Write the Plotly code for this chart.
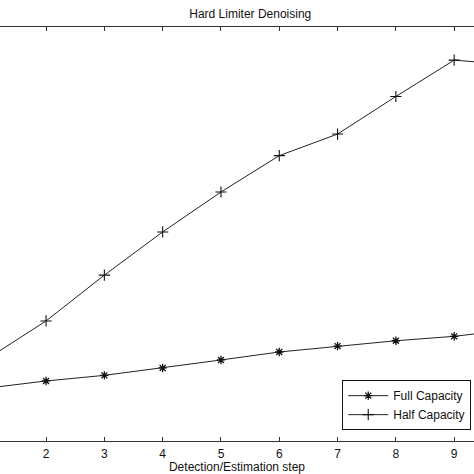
import plotly.graph_objects as go

# passos de deteccao/estimacao
steps = [1, 2, 3, 4, 5, 6, 7, 8, 9, 10]
full_capacity = [1.79, 2.03, 2.22, 2.47, 2.74, 3.01, 3.21, 3.39, 3.54, 3.77]
half_capacity = [2.79, 4.06, 5.61, 7.07, 8.42, 9.65, 10.38, 11.65, 12.88, 12.72]
x_ticks = [1, 2, 3, 4, 5, 6, 7, 8, 9, 10]

fig = go.Figure()

fig.add_trace(go.Scatter(
    x=steps, y=full_capacity,
    mode='lines+markers',
    name='Full Capacity',
    line=dict(color='#222222', width=1),
    marker=dict(symbol='asterisk-open', size=7, color='#111111',
                line=dict(color='#111111', width=1.3))
))

fig.add_trace(go.Scatter(
    x=steps, y=half_capacity,
    mode='lines+markers',
    name='Half Capacity',
    line=dict(color='#222222', width=1),
    marker=dict(symbol='cross-thin-open', size=8, color='#111111',
                line=dict(color='#111111', width=1.1))
))

fig.update_layout(
    width=474, height=474,
    margin=dict(l=0, r=0, t=27, b=33),
    paper_bgcolor='white',
    plot_bgcolor='white',
    font=dict(family='Liberation Sans, Arial, sans-serif', color='#111111', size=12),
    title=dict(text='Hard Limiter Denoising', x=0.528, xanchor='center',
               y=1 - 14 / 474, yanchor='middle', font=dict(size=12)),
    showlegend=True,
    legend=dict(x=0.722, y=0.147, xanchor='left', yanchor='top',
                bordercolor='#111111', borderwidth=1, bgcolor='white',
                font=dict(size=12), itemwidth=40),
)

fig.update_xaxes(
    range=[1.21, 9.34],
    tickvals=x_ticks,
    ticks='inside', ticklen=4, tickcolor='#333333',
    ticklabelstandoff=2, tickfont=dict(size=12),
    showline=True, linecolor='#333333', linewidth=1, mirror='ticks',
    showgrid=False, zeroline=False,
    title=dict(text='Detection/Estimation step', font=dict(size=12), standoff=2),
    automargin=False,
)

fig.update_yaxes(
    range=[0, 14],
    showticklabels=False, ticks='',
    showline=False, showgrid=False, zeroline=False,
    automargin=False,
)

# tirar a margem padrao do body para o grafico ocupar a janela toda
fig.write_html('out.html', config={'displayModeBar': False},
               post_script="document.body.style.margin='0';")
